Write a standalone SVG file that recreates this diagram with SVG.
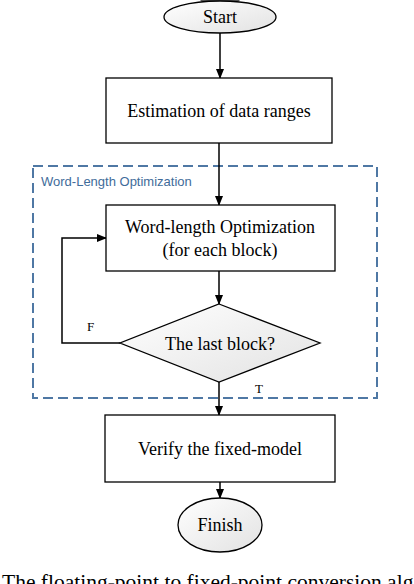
<svg xmlns="http://www.w3.org/2000/svg" width="414" height="584" viewBox="0 0 414 584">
<defs>
<linearGradient id="g" x1="0" y1="0" x2="1" y2="1">
<stop offset="0" stop-color="#ffffff"/>
<stop offset="1" stop-color="#e2e2e2"/>
</linearGradient>
<marker id="ah" markerWidth="10" markerHeight="10" refX="9" refY="5" orient="auto" markerUnits="userSpaceOnUse">
<path d="M0,1 L10,5 L0,9 Z" fill="#000"/>
</marker>
<style>
.n{fill:#fff;stroke:#000;stroke-width:1.3}
.t{fill:url(#g);stroke:#000;stroke-width:1.3}
.tx{font-family:"Liberation Serif","Times New Roman",serif;font-size:18px;fill:#000;text-anchor:middle}
.lb{font-family:"Liberation Serif","Times New Roman",serif;font-size:13px;fill:#000}
.c{fill:none;stroke:#000;stroke-width:1.5;marker-end:url(#ah)}
</style>
</defs>
<rect width="414" height="584" fill="#fff"/>
<path d="M200,0 L240,0 L236,4 L204,4 Z" fill="#555"/>
<g id="group-wlo">
<rect x="33" y="166" width="344" height="232" fill="none" stroke="#4f78a4" stroke-width="2" stroke-dasharray="10,5"/>
<text x="41" y="186" font-family="'Liberation Sans',Arial,sans-serif" font-size="13" fill="#3f6c9a">Word-Length Optimization</text>
</g>
<g id="connectors">
<path class="c" d="M220,33 L220,78"/>
<path class="c" d="M219,143 L219,205"/>
<path class="c" d="M219,271 L219,304"/>
<path class="c" d="M120,343 L62,343 L62,238 L106,238"/>
<path class="c" d="M219,382 L219,415"/>
<path class="c" d="M220,482 L220,498"/>
<text class="lb" x="87" y="331">F</text>
<text class="lb" x="255" y="393">T</text>
</g>
<g id="start">
<ellipse class="t" cx="220" cy="17" rx="56" ry="16"/>
<text class="tx" x="220" y="23">Start</text>
</g>
<g id="estimation">
<rect class="n" x="106" y="78" width="226" height="65"/>
<text class="tx" x="219" y="117">Estimation of data ranges</text>
</g>
<g id="wordlength">
<rect class="n" x="106" y="205" width="229" height="66"/>
<text class="tx" x="220" y="233">Word-length Optimization</text>
<text class="tx" x="220" y="256">(for each block)</text>
</g>
<g id="lastblock">
<polygon class="t" points="219,304 320,343 219,382 120,343"/>
<text class="tx" x="220" y="350">The last block?</text>
</g>
<g id="verify">
<rect class="n" x="105" y="415" width="230" height="67"/>
<text class="tx" x="220" y="455">Verify the fixed-model</text>
</g>
<g id="finish">
<ellipse class="t" cx="220" cy="525" rx="42" ry="27"/>
<text class="tx" x="220" y="531">Finish</text>
</g>
<text x="2" y="589" font-family="'Liberation Serif','Times New Roman',serif" font-size="21.5" fill="#000">The floating-point to fixed-point conversion alg</text>
</svg>
